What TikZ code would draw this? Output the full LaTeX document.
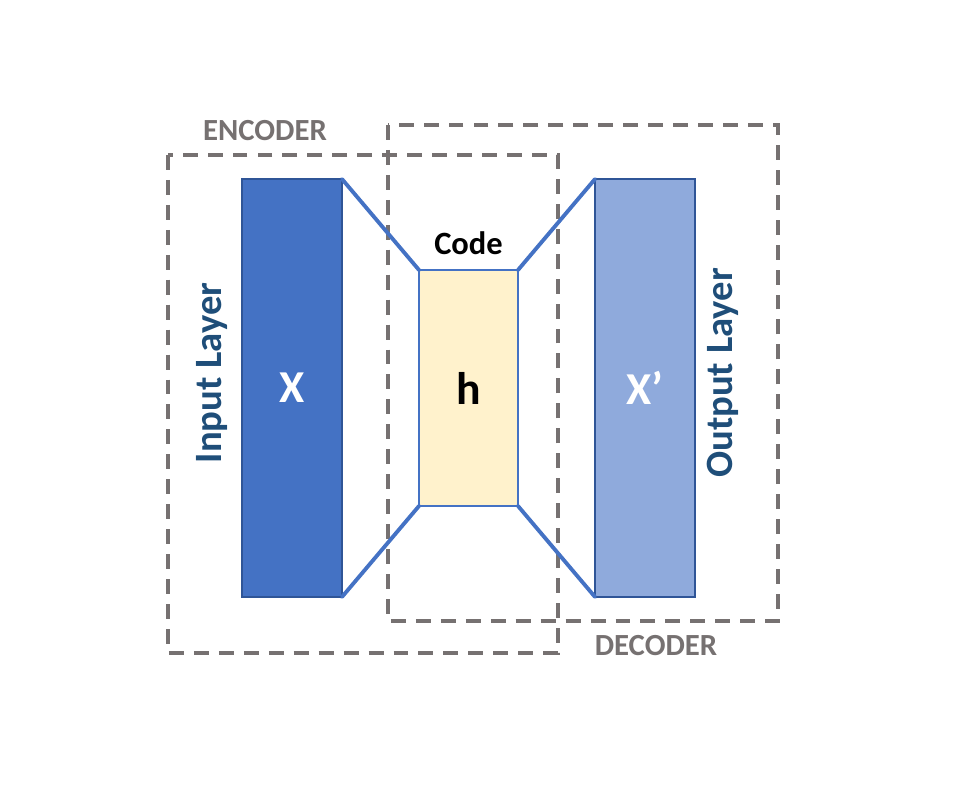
\documentclass[tikz,border=0pt]{standalone}
\usepackage{fontspec}
\setmainfont{Carlito}
\usetikzlibrary{positioning}
\definecolor{darkblue}{HTML}{4472C4}
\definecolor{lightblue}{HTML}{8FAADC}
\definecolor{edgeblue}{HTML}{2F5597}
\definecolor{codefill}{HTML}{FFF2CC}
\definecolor{boxgray}{HTML}{767171}
\definecolor{labelblue}{HTML}{1F4E79}
\begin{document}
\begin{tikzpicture}[x=0.02cm, y=-0.02cm, font=\bfseries,
    boxline/.style={boxgray, line width=2.3pt, dash pattern=on 8.5pt off 5.7pt},
    layer/.style={draw=edgeblue, line width=0.8pt, minimum width=2cm, minimum height=8.36cm, inner sep=0pt, outer sep=0pt},
    link/.style={darkblue, line width=2.2pt, line cap=round}]
    \useasboundingbox (0,0) rectangle (974,787);

    % === 虚线框：编码器与解码器 ===
    \draw[boxline] (168,155) rectangle (558,653);
    \draw[boxline] (388,125) rectangle (778,621);
    \node[boxgray, font=\bfseries\fontsize{17.5}{20}\selectfont] (enc) at (265,131) {ENCODER};
    \node[boxgray, font=\bfseries\fontsize{17.5}{20}\selectfont] (dec) at (656,646) {DECODER};

    % === 三层 ===
    \node[layer, fill=darkblue, text=white, font=\bfseries\fontsize{26}{30}\selectfont] (X) at (292,388) {X};
    \node[layer, fill=codefill, draw=darkblue, minimum width=1.98cm, minimum height=4.72cm,
          font=\bfseries\fontsize{26}{30}\selectfont] (h) at (468.5,388) {h};
    \node[layer, fill=lightblue, text=white, font=\bfseries\fontsize{26}{30}\selectfont] (Xp) at (645,388) {X’};

    % 标签
    \node[font=\bfseries\fontsize{18.5}{22}\selectfont, above=5pt of h.north] (code) {Code};
    \node[labelblue, rotate=90, font=\bfseries\fontsize{22}{26}\selectfont] (inlab) at (212,373) {Input Layer};
    \node[labelblue, rotate=90, font=\bfseries\fontsize{22}{26}\selectfont] (outlab) at (723,373) {Output Layer};

    % 连线
    \draw[link] (X.north east) -- (h.north west);
    \draw[link] (X.south east) -- (h.south west);
    \draw[link] (h.north east) -- (Xp.north west);
    \draw[link] (h.south east) -- (Xp.south west);
\end{tikzpicture}
\end{document}
